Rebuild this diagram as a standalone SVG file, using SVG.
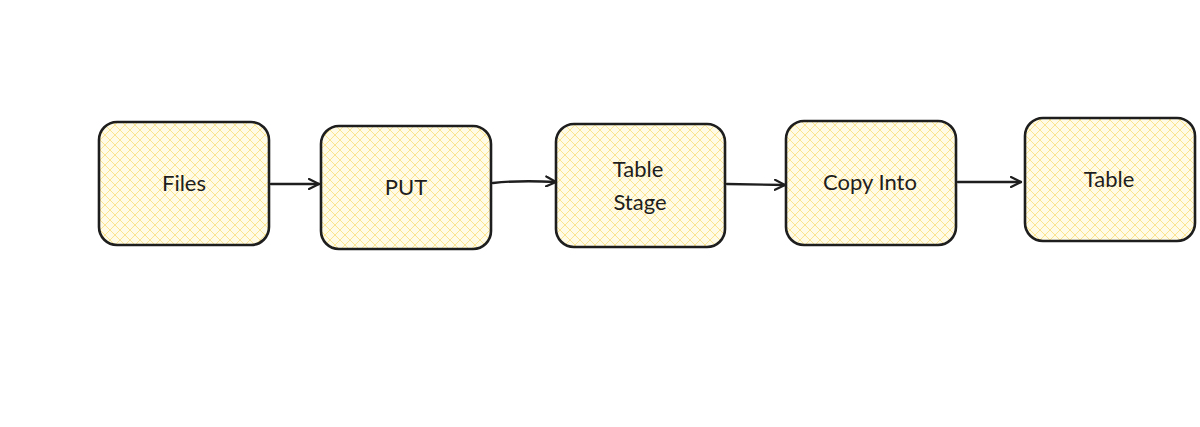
<svg xmlns="http://www.w3.org/2000/svg" width="1200" height="427" viewBox="0 0 1200 427">
<defs>
<pattern id="h" width="10" height="10" patternUnits="userSpaceOnUse">
<rect width="10" height="10" fill="#fffbe6"/>
<path d="M0 0L10 10M10 0L0 10M-5 5L5 15M5 -5L15 5M-5 5L5 -5M5 15L15 5" stroke="#fbe48f" stroke-width="1"/>
</pattern>
<marker id="a" viewBox="0 0 12 12" refX="11" refY="6" markerWidth="12" markerHeight="12" markerUnits="userSpaceOnUse" orient="auto">
<path d="M1 1L11 6L1 11" fill="none" stroke="#1e1e1e" stroke-width="2.2" stroke-linecap="round" stroke-linejoin="round"/>
</marker>
</defs>
<style>
.b{fill:url(#h);stroke:#1e1e1e;stroke-width:2.6}
.t{font-family:Lato,"Liberation Sans",sans-serif;font-size:22px;fill:#1e1e1e;text-anchor:middle}
.c{stroke:#1e1e1e;stroke-width:2.4;fill:none;stroke-linecap:round}
</style>
<rect width="1200" height="427" fill="#fff"/>
<g id="files"><rect class="b" x="99" y="122" width="170" height="123" rx="18"/><text class="t" x="184" y="191">Files</text></g>
<g id="put"><rect class="b" x="321" y="126" width="170" height="123" rx="18"/><text class="t" x="406" y="195">PUT</text></g>
<g id="stage"><rect class="b" x="556" y="124" width="169" height="123" rx="18"/><text class="t" x="638" y="177">Table</text><text class="t" x="640" y="210">Stage</text></g>
<g id="copy"><rect class="b" x="786" y="121" width="170" height="124" rx="18"/><text class="t" x="870" y="190">Copy Into</text></g>
<g id="table"><rect class="b" x="1025" y="118" width="170" height="123" rx="18"/><text class="t" x="1109" y="187">Table</text></g>
<g id="connectors">
<path class="c" d="M271 184L319 184" marker-end="url(#a)"/>
<path class="c" d="M493 183Q520 180 556 182" marker-end="url(#a)"/>
<path class="c" d="M727 184L785 185" marker-end="url(#a)"/>
<path class="c" d="M958 182L1021 182" marker-end="url(#a)"/>
</g>
</svg>
